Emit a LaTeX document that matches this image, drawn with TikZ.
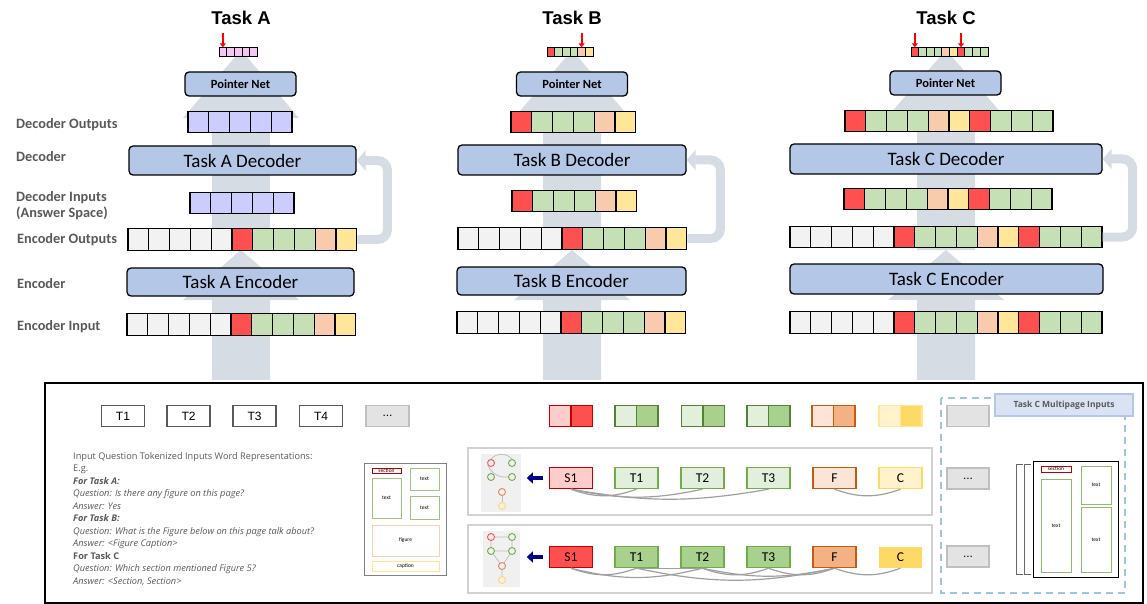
\documentclass[tikz,border=0pt]{standalone}
\usepackage{fontspec}
\setmainfont{Carlito}
\newfontfamily\arialf{Liberation Sans}
\newfontfamily\osans{Open Sans}
\usetikzlibrary{positioning,arrows.meta}
\newcommand\cw{20.8}
\definecolor{cg}{HTML}{F2F2F2}
\definecolor{cr}{HTML}{FF5050}
\definecolor{cgr}{HTML}{C5E0B4}
\definecolor{cpe}{HTML}{F8CBAD}
\definecolor{cy}{HTML}{FFE699}
\definecolor{cv}{HTML}{CCCCFF}
\definecolor{cpk}{HTML}{F4C6F6}
\definecolor{blk}{HTML}{B4C7E7}
\definecolor{bgar}{HTML}{D6DCE4}
\definecolor{txg}{HTML}{595959}
\definecolor{lr}{HTML}{FFCCCC}
\definecolor{dr}{HTML}{C00000}
\definecolor{lgr}{HTML}{E2EFDA}
\definecolor{mgr}{HTML}{A9D18E}
\definecolor{dgr}{HTML}{548235}
\definecolor{ggr}{HTML}{70AD47}
\definecolor{lor}{HTML}{FCE4D6}
\definecolor{mor}{HTML}{F4B183}
\definecolor{dor}{HTML}{C55A11}
\definecolor{lyl}{HTML}{FFF2CC}
\definecolor{myl}{HTML}{FFD966}
\definecolor{dsh}{HTML}{9DC3E6}
\definecolor{tab}{HTML}{DAE3F3}
\tikzset{cell/.style={rectangle,draw=black,line width=1.3pt,inner sep=0pt,minimum width=\cw pt,minimum height=21.5pt},
  mini/.style={rectangle,draw=black,line width=0.9pt,inner sep=0pt,minimum width=7.7pt,minimum height=8.5pt},
  block/.style={rectangle,rounded corners=4pt,draw=black,line width=1.3pt,fill=blk,inner sep=0pt,font=\fontsize{19}{19}\selectfont},
  pnet/.style={block,font=\bfseries\fontsize{12.5}{12.5}\selectfont,minimum width=111pt,minimum height=24pt},
  ttl/.style={font=\arialf\bfseries\fontsize{18.5}{18.5}\selectfont},
  lbl/.style={anchor=west,text=txg,font=\bfseries\fontsize{14.3}{16}\selectfont,align=left,inner sep=0pt},
  ptr/.style={red,line width=2.2pt,-{Triangle[width=6pt,length=4pt]}},
  loop/.style={bgar,line width=9pt,rounded corners=10pt,-{Triangle[width=20pt,length=9pt]}},
  tok/.style={rectangle,draw=txg,line width=1.8pt,fill=white,minimum width=43pt,minimum height=21pt,inner sep=0pt,font=\arialf\fontsize{12}{12}\selectfont},
  dots/.style={tok,draw=gray!50,fill=gray!22},
  half/.style={rectangle,line width=1.4pt,minimum width=21.5pt,minimum height=21pt,inner sep=0pt},
  gnode/.style={rectangle,line width=1.4pt,minimum width=43pt,minimum height=21pt,inner sep=0pt,font=\fontsize{13.5}{13.5}\selectfont},
  link/.style={gray!75,line width=1.2pt},
  dot/.style={circle,line width=0.9pt,minimum size=7pt,inner sep=0pt},
  lay/.style={rectangle,line width=0.9pt,inner sep=0pt,font=\fontsize{5.5}{5.5}\selectfont}}
\newcommand\cellrow[4]{\foreach \c [count=\i] in {#4}{\node[cell,fill=\c] (#1\i) at ({#2+(\i-0.5)*\cw},#3) {};}}
\newcommand\minirow[4]{\foreach \c [count=\i] in {#4}{\node[mini,fill=\c] (#1\i) at ({#2+(\i-0.5)*7.7},#3) {};}}
\newcommand\bgarrow[4]{\fill[bgar] (#1-29,#2) -- (#1-29,#3) -- (#1-58,#3) -- (#1,#4) -- (#1+58,#3) -- (#1+29,#3) -- (#1+29,#2) -- cycle;}
\begin{document}
\begin{tikzpicture}[x=1pt,y=-1pt]
\useasboundingbox (0,0) rectangle (1147,604);
% background arrows
\bgarrow{241}{380}{300}{250}
\bgarrow{241}{250}{118}{50}
\bgarrow{572}{380}{300}{250}
\bgarrow{572}{250}{118}{50}
\bgarrow{946}{380}{300}{250}
\bgarrow{946}{250}{116}{50}

% labels on the left
\node[lbl] (lDO) at (16,125) {Decoder Outputs};
\node[lbl] (lD) at (16,157) {Decoder};
\node[lbl] (lDI) at (16,206) {Decoder Inputs\\(Answer Space)};
\node[lbl] (lEO) at (17,240) {Encoder Outputs};
\node[lbl] (lE) at (17,284) {Encoder};
\node[lbl] (lEI) at (17,327) {Encoder Input};

% Task A
\node[ttl] (tA) at (241,18) {Task A};
\minirow{as}{219}{52}{cpk,cpk,cpk,cpk,cpk}
\node[pnet] (apn) at (240.5,84) {Pointer Net};
\cellrow{ado}{188}{122}{cv,cv,cv,cv,cv}
\node[block,minimum width=227pt,minimum height=29pt] (adec) at (242.5,160.5) {Task A Decoder};
\cellrow{adi}{190}{203}{cv,cv,cv,cv,cv}
\cellrow{aeo}{128}{239.5}{cg,cg,cg,cg,cg,cr,cgr,cgr,cgr,cpe,cy}
\node[block,minimum width=227pt,minimum height=28pt] (aenc) at (240.5,282) {Task A Encoder};
\cellrow{aei}{127}{324.5}{cg,cg,cg,cg,cg,cr,cgr,cgr,cgr,cpe,cy}
\draw[loop] (aeo11.east) -- ++(30,0) |- (adec.east);
\draw[ptr] ([yshift=14pt]as1.north) -- (as1.north);

% Task B
\node[ttl] (tB) at (572,18) {Task B};
\minirow{bs}{547}{52}{cr,cgr,cgr,cgr,cpe,cy}
\node[pnet] (bpn) at (572,84) {Pointer Net};
\cellrow{bdo}{511}{122}{cr,cgr,cgr,cgr,cpe,cy}
\node[block,minimum width=228pt,minimum height=30pt] (bdec) at (572,160) {Task B Decoder};
\cellrow{bdi}{512}{201}{cr,cgr,cgr,cgr,cpe,cy}
\cellrow{beo}{458}{238.5}{cg,cg,cg,cg,cg,cr,cgr,cgr,cgr,cpe,cy}
\node[block,minimum width=229pt,minimum height=28pt] (benc) at (571.5,281) {Task B Encoder};
\cellrow{bei}{457}{322.5}{cg,cg,cg,cg,cg,cr,cgr,cgr,cgr,cpe,cy}
\draw[loop] (beo11.east) -- ++(33,0) |- (bdec.east);
\draw[ptr] ([yshift=14pt]bs5.north) -- (bs5.north);

% Task C
\node[ttl] (tC) at (946,18) {Task C};
\minirow{cs}{911}{52}{cr,cgr,cgr,cgr,cpe,cy,cr,cgr,cgr,cgr}
\node[pnet] (cpn) at (945.5,83) {Pointer Net};
\cellrow{cdo}{845}{121}{cr,cgr,cgr,cgr,cpe,cy,cr,cgr,cgr,cgr}
\node[block,minimum width=312pt,minimum height=30pt] (cdec) at (946,159) {Task C Decoder};
\cellrow{cdi}{844}{199}{cr,cgr,cgr,cgr,cpe,cy,cr,cgr,cgr,cgr}
\cellrow{ceo}{790}{237}{cg,cg,cg,cg,cg,cr,cgr,cgr,cgr,cpe,cy,cr,cgr,cgr,cgr}
\node[block,minimum width=313pt,minimum height=30pt] (cenc) at (946.5,279) {Task C Encoder};
\cellrow{cei}{790}{322.5}{cg,cg,cg,cg,cg,cr,cgr,cgr,cgr,cpe,cy,cr,cgr,cgr,cgr}
\draw[loop] (ceo15.east) -- ++(30,0) |- (cdec.east);
\draw[ptr] ([yshift=14pt]cs1.north) -- (cs1.north);
\draw[ptr] ([yshift=14pt]cs7.north) -- (cs7.north);

% input panel
\draw[line width=2.5pt] (45,383) rectangle (1143,603);
\node[tok] (w1) at (123,416) {T1};
\node[tok] (w2) at (188.5,416) {T2};
\node[tok] (w3) at (254.5,416) {T3};
\node[tok] (w4) at (321,416) {T4};
\node[dots] (w5) at (387.5,416) {...};
\node[anchor=north west,align=left,text=txg,inner sep=0pt,font=\osans\fontsize{9.2}{12.5}\selectfont] (qtxt) at (73,452)
  {Input Question Tokenized Inputs Word Representations:\\ E.g.\\ \textbf{\textit{For Task A:}}\\ \textit{Question: Is there any figure on this page?}\\
   \textit{Answer: Yes}\\ \textbf{\textit{For Task B:}}\\ \textit{Question: What is the Figure below on this page talk about?}\\
   \textit{Answer: <Figure Caption>}\\ \textbf{For Task C}\\ \textit{Question: Which section mentioned Figure 5?}\\ \textit{Answer: <Section, Section>}};
% page layout
\draw[gray,line width=1pt] (364,463) rectangle (446,575);
\node[lay,draw=dr,minimum width=29pt,minimum height=5pt] (pg1) at (386.5,470.5) {section};
\node[lay,draw=ggr!70,minimum width=29pt,minimum height=40pt] (pg2) at (386.5,498) {text};
\node[lay,draw=ggr!70,minimum width=29pt,minimum height=22pt] (pg3) at (424.5,479) {text};
\node[lay,draw=ggr!70,minimum width=29pt,minimum height=23pt] (pg4) at (424.5,507.5) {text};
\node[lay,draw=mor!60,minimum width=67pt,minimum height=31pt] (pg5) at (405.5,540.5) {figure};
\node[lay,draw=myl!70,minimum width=67pt,minimum height=10pt] (pg6) at (405.5,566) {caption};

% token pairs
\foreach \xx/\lc/\dc/\bc [count=\k] in {571/lr/cr/dr,636.5/lgr/mgr/dgr,703/lgr/mgr/dgr,768.5/lgr/mgr/dgr,833.5/lor/mor/dor,900.5/lyl/myl/cy}{
  \node[half,draw=\bc,fill=\lc] (pl\k) at (\xx-10.75,416) {};
  \node[half,draw=\bc,fill=\dc] (pr\k) at (\xx+10.75,416) {};}

% graph panels
\draw[gray!35,line width=2pt] (468,448) rectangle (932,515);
\draw[gray!35,line width=2pt] (468,525) rectangle (932,593);
\node[gnode,draw=dr,fill=lr] (s1a) at (571,478) {S1};
\node[gnode,draw=ggr,fill=lgr] (t1a) at (636.5,478) {T1};
\node[gnode,draw=ggr,fill=lgr] (t2a) at (702.5,478) {T2};
\node[gnode,draw=ggr,fill=lgr] (t3a) at (768.5,478) {T3};
\node[gnode,draw=dor,fill=lor] (fa) at (834.5,478) {F};
\node[gnode,draw=myl,fill=lyl] (ca) at (900.5,478) {C};
\draw[link] (s1a.south) to[bend right=20] (t1a.south);
\draw[link] (s1a.south) to[bend right=12] (t2a.south);
\draw[link] (s1a.south) to[bend right=10] (t3a.south);
\draw[link] (fa.south) to[bend right=20] (ca.south);
\node[gnode,draw=dr,fill=cr] (s1b) at (571,557) {S1};
\node[gnode,draw=ggr,fill=mgr] (t1b) at (636.5,557) {T1};
\node[gnode,draw=ggr,fill=mgr] (t2b) at (702.5,557) {T2};
\node[gnode,draw=ggr,fill=mgr] (t3b) at (768.5,557) {T3};
\node[gnode,draw=dor,fill=mor] (fb) at (834.5,557) {F};
\node[gnode,fill=myl] (cb) at (900.5,557) {C};
\draw[link] (s1b.south) to[bend right=20] (t1b.south);
\draw[link] (s1b.south) to[bend right=14] (t2b.south);
\draw[link] (t1b.south) -- (t2b.south);
\draw[link] (t1b.south) to[bend right=12] (fb.south);
\draw[link] (t2b.south) to[bend right=20] (t3b.south);
\draw[link] (t3b.south) to[bend right=20] (fb.south);
\draw[link] (t2b.south) to[bend right=12] (fb.south);
\draw[link] (fb.south) to[bend right=20] (cb.south);
\draw[-{Triangle[width=11pt,length=6pt]},line width=4pt,blue!55!black] (s1a.west) ++(-6,0) -- ++(-16,0);
\draw[-{Triangle[width=11pt,length=6pt]},line width=4pt,blue!55!black] (s1b.west) ++(-6,0) -- ++(-16,0);

% small graph icons
\fill[gray!12] (481,454) rectangle (521,512);
\node[dot,draw=cr] (ga1) at (491,463) {};
\node[dot,draw=ggr] (ga2) at (512,463) {};
\node[dot,draw=ggr] (ga3) at (491,477) {};
\node[dot,draw=ggr] (ga4) at (512,477) {};
\node[dot,draw=dor!70] (ga5) at (502,492) {};
\node[dot,draw=myl] (ga6) at (502,506) {};
\draw[gray!50,line width=0.8pt] (ga1.north) to[bend left=50] (ga2.north);
\draw[gray!50,line width=0.8pt] (ga1.west) to[bend right=40] (ga4.west);
\draw[gray!50,line width=0.8pt] (ga5) -- (ga6);
\fill[gray!12] (483,531) rectangle (520,587);
\node[dot,draw=cr] (gb1) at (491,537) {};
\node[dot,draw=ggr] (gb2) at (512,537) {};
\node[dot,draw=ggr] (gb3) at (491,551) {};
\node[dot,draw=ggr] (gb4) at (512,551) {};
\node[dot,draw=dor!70] (gb5) at (502,566) {};
\node[dot,draw=myl] (gb6) at (502,580) {};
\draw[gray!50,line width=0.8pt] (gb1) -- (gb2) (gb3) -- (gb4) (gb1) -- (gb3) (gb2) -- (gb4)
  (gb3) -- (gb5) (gb4) -- (gb5) (gb5) -- (gb6);

% multipage inputs
\draw[dsh,line width=1.6pt,dash pattern=on 7pt off 5pt] (941,398) rectangle (1125,593);
\node[rectangle,draw=blk,line width=1.2pt,fill=tab,minimum width=138pt,minimum height=22pt,inner sep=0pt,text=txg,font=\osans\bfseries\fontsize{8.5}{8.5}\selectfont] (mtab) at (1064,405) {Task C Multipage Inputs};
\node[dots,minimum width=42pt] (m1) at (968,416) {};
\node[dots,minimum width=42pt] (m2) at (968,478.5) {...};
\node[dots,minimum width=42pt] (m3) at (968,556.5) {...};
\draw[gray!80!black,line width=1pt] (1023,464) -- (1016,464) -- (1016,574) -- (1023,574);
\draw[gray!80!black,line width=1pt] (1031,464) -- (1024,464) -- (1024,574) -- (1031,574);
\draw[black,line width=1pt] (1033,461) rectangle (1118,577);
\node[lay,draw=dr,minimum width=30pt,minimum height=6pt] (q1) at (1056,469) {section};
\node[lay,draw=ggr!80,minimum width=30pt,minimum height=93pt] (q2) at (1056,525.5) {text};
\node[lay,draw=ggr!80,minimum width=30pt,minimum height=38pt] (q3) at (1096,485) {text};
\node[lay,draw=ggr!80,minimum width=30pt,minimum height=65pt] (q4) at (1096,539.5) {text};
\end{tikzpicture}
\end{document}
